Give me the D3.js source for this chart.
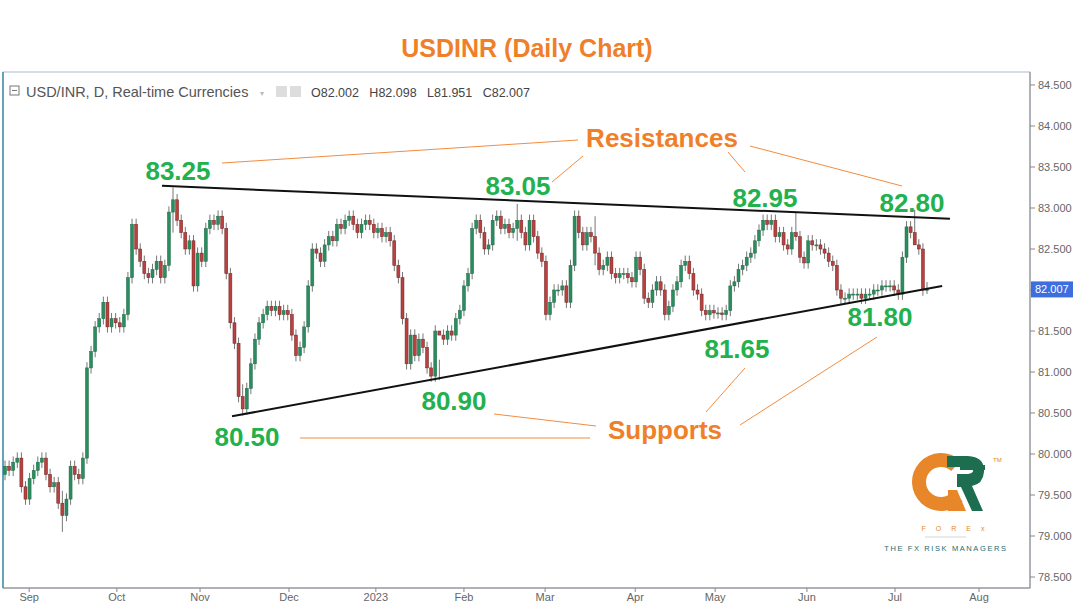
<!DOCTYPE html>
<html><head><meta charset="utf-8">
<script src="https://cdn.jsdelivr.net/npm/d3@7"></script>
<style>body{margin:0;background:#fff;font-family:"Liberation Sans",Arial,sans-serif}</style>
</head><body><svg id="c" width="1074" height="608"></svg>
<script>
const closes = [
79.85,79.80,79.90,79.95,79.60,79.45,79.70,79.80,79.90,79.95,79.75,79.60,79.65,79.40,79.25,79.45,79.85,79.75,79.70,79.95,
81.05,81.25,81.55,81.65,81.85,81.55,81.65,81.60,81.55,81.70,82.15,82.80,82.50,82.35,82.20,82.15,82.25,82.35,82.15,82.30,
82.95,83.10,82.85,82.70,82.50,82.60,82.05,82.45,82.35,82.75,82.85,82.80,82.90,82.75,82.20,81.60,81.35,80.70,80.55,80.80,
81.10,81.40,81.60,81.70,81.80,81.75,81.80,81.70,81.75,81.70,81.45,81.20,81.30,81.55,82.05,
82.50,82.45,82.35,82.55,82.65,82.60,82.80,82.75,82.85,82.90,82.80,82.70,82.80,82.85,82.80,82.70,82.75,82.65,82.70,82.60,
82.30,82.15,81.65,81.10,81.45,81.20,81.40,81.30,81.05,80.95,81.50,81.45,81.40,81.50,81.45,81.65,81.75,82.05,82.20,82.75,
82.85,82.70,82.50,82.55,82.85,82.90,82.75,82.80,82.70,82.75,82.85,82.70,82.55,82.85,82.65,82.45,82.35,81.70,81.85,82.00,
82.00,82.05,81.85,82.30,
82.90,82.70,82.55,82.70,82.65,82.45,82.25,82.30,82.40,82.20,82.15,82.20,82.20,82.15,82.10,82.40,82.25,81.90,81.85,82.00,
82.10,82.00,81.70,81.80,82.00,82.10,82.30,82.35,82.20,82.00,81.95,81.75,81.70,81.75,81.72,81.72,81.70,81.75,82.05,82.10,
82.25,82.30,82.40,
82.45,82.60,82.73,82.85,82.80,82.85,82.65,82.70,82.55,82.50,82.70,82.65,82.40,82.33,82.60,82.55,82.55,82.50,82.45,82.35,
82.30,82.00,81.90,81.90,81.95,81.95,81.95,81.90,81.95,81.95,82.00,82.00,82.05,82.05,82.05,82.00,81.95,82.40,82.77,82.70,
82.55,82.50,82.00,82.007];
const firstOpen = 79.75;
// extreme wicks: [index, high, low]
const extremes = [[14,79.55,79.05],[41,83.25,82.70],[58,80.85,80.47],[106,81.15,80.90],[125,83.05,82.60],[144,82.90,82.30],[193,82.95,82.60],[222,82.98,82.55],[225,82.098,81.951]];
const monthLabels = ["Sep","Oct","Nov","Dec","2023","Feb","Mar","Apr","May","Jun","Jul","Aug"];
const monthIdx = [5.9,27.3,47.6,69.3,90.5,112,131.8,153.8,173.3,195.7,217.2,237.7];
const priceTicks = d3.range(78.5,84.51,0.5);
const lastPrice = 82.007;
const resistances = [["83.25",41,83.28],["83.05",125,83.05],["82.95",193,82.95],["82.80",222,82.80]];
const supports = [["80.50",58,80.47],["80.90",106,80.90],["81.65",173,81.65],["81.80",213,81.80]];

const svg=d3.select("#c");
const L=3,T=72,R=1030,B=588;
const x=d3.scaleLinear().domain([0,closes.length-1]).range([5,927]);
const y=d3.scaleLinear().domain([78.5,84.5]).range([577,85]);

svg.append("text").attr("x",527).attr("y",57).attr("text-anchor","middle").attr("fill","#f07f2a")
 .attr("font-size",25).attr("font-weight","bold").text("USDINR (Daily Chart)");
svg.append("rect").attr("x",L).attr("y",T).attr("width",R-L).attr("height",B-T).attr("fill","none").attr("stroke","#a9bccf");
svg.append("line").attr("x1",L).attr("x2",L).attr("y1",T).attr("y2",B).attr("stroke","#3f8fa8").attr("stroke-width",1.5);

// header
const hd=svg.append("g").attr("font-size",14.5).attr("fill","#555");
hd.append("rect").attr("x",10).attr("y",86).attr("width",9).attr("height",9).attr("fill","none").attr("stroke","#777");
hd.append("line").attr("x1",12).attr("x2",17).attr("y1",90.5).attr("y2",90.5).attr("stroke","#777");
hd.append("text").attr("x",26).attr("y",97).text("USD/INR, D, Real-time Currencies");
hd.append("text").attr("x",260).attr("y",96).attr("font-size",8).attr("fill","#bbb").text("▾");
hd.append("rect").attr("x",276).attr("y",86).attr("width",11).attr("height",11).attr("fill","#ddd");
hd.append("rect").attr("x",290).attr("y",86).attr("width",11).attr("height",11).attr("fill","#ddd");
hd.append("text").attr("x",311).attr("y",97).attr("font-size",12.5).attr("fill","#444").attr("xml:space","preserve").text("O82.002   H82.098   L81.951   C82.007");

// axes
const ya=svg.append("g").attr("font-size",11).attr("fill","#666");
priceTicks.forEach(p=>{
  ya.append("line").attr("x1",R).attr("x2",R+5).attr("y1",y(p)).attr("y2",y(p)).attr("stroke","#888");
  if(Math.abs(y(p)-y(lastPrice))>12) ya.append("text").attr("x",R+8).attr("y",y(p)+4).text(p.toFixed(3));
});
svg.append("line").attr("x1",R).attr("x2",R).attr("y1",T).attr("y2",B).attr("stroke","#888");
const xa=svg.append("g").attr("font-size",11).attr("fill","#666");
svg.append("line").attr("x1",L).attr("x2",R).attr("y1",B).attr("y2",B).attr("stroke","#888");
monthLabels.forEach((m,i)=>{
  const px=x(monthIdx[i]);
  xa.append("line").attr("x1",px).attr("x2",px).attr("y1",B).attr("y2",B+4).attr("stroke","#888");
  xa.append("text").attr("x",px).attr("y",601).attr("text-anchor","middle").text(m);
});
svg.append("rect").attr("x",R+1).attr("y",y(lastPrice)-8).attr("width",42).attr("height",16).attr("fill","#3c6ee0");
svg.append("text").attr("x",R+5).attr("y",y(lastPrice)+4).attr("font-size",11).attr("fill","#fff").text(lastPrice.toFixed(3));

// candles
const ex=new Map(extremes.map(e=>[e[0],e]));
const cg=svg.append("g");
closes.forEach((c,i)=>{
  const o=i?closes[i-1]:firstOpen;
  let hi=Math.max(o,c)+0.07, lo=Math.min(o,c)-0.07;
  if(ex.has(i)){hi=ex.get(i)[1];lo=ex.get(i)[2];}
  const up=c>=o, col=up?"#2a8c5f":"#b9413f", dk=up?"#1f6b47":"#6b2424";
  cg.append("line").attr("x1",x(i)).attr("x2",x(i)).attr("y1",y(hi)).attr("y2",y(lo)).attr("stroke","#777");
  const top=y(Math.max(o,c)), h=Math.max(1,Math.abs(y(o)-y(c)));
  cg.append("rect").attr("x",x(i)-1.5).attr("y",top).attr("width",3).attr("height",h).attr("fill",col).attr("stroke",dk).attr("stroke-width",0.5);
});

// trend lines
const tl=[[38.3,83.27,230.6,82.87],[55.4,80.46,228.7,82.05]];
tl.forEach(t=>svg.append("line").attr("x1",x(t[0])).attr("y1",y(t[1])).attr("x2",x(t[2])).attr("y2",y(t[3])).attr("stroke","#111").attr("stroke-width",2));

// annotations
const orange="#f07f2a";
const leaders=[[222,163,578,140],[583,156,552,182],[728,152,745,172],[750,146,902,186],
 [300,438,590,438],[494,414,596,426],[706,412,745,368],[740,425,877,337]];
leaders.forEach(l=>svg.append("line").attr("x1",l[0]).attr("y1",l[1]).attr("x2",l[2]).attr("y2",l[3]).attr("stroke",orange).attr("stroke-width",0.9));
svg.append("text").attr("x",662).attr("y",147).attr("text-anchor","middle").attr("fill",orange).attr("font-size",26).attr("font-weight","bold").text("Resistances");
svg.append("text").attr("x",665).attr("y",439).attr("text-anchor","middle").attr("fill",orange).attr("font-size",26).attr("font-weight","bold").text("Supports");
const green="#22b14c";
const lblPos=[[178,180],[518,195],[765,207],[912,212],[247,446],[454,410],[737,358],[880,326]];
resistances.concat(supports).forEach((r,i)=>svg.append("text").attr("x",lblPos[i][0]).attr("y",lblPos[i][1]).attr("text-anchor","middle").attr("fill",green).attr("font-size",26).attr("font-weight","bold").text(r[0]));

// logo
const lg=svg.append("g");
lg.append("path").attr("transform","translate(941,482)").attr("fill","#e8862a")
 .attr("d",d3.arc().innerRadius(15).outerRadius(29).startAngle(2.3).endAngle(2*Math.PI+0.75)());
lg.append("path").attr("fill","#1d6e50").attr("d","M947,456 L968,456 Q985,457 984,472 Q983,484 972,486 L983,511 L972,511 L961,487 L957,487 L957,474 L968,474 Q973,473 973,471 Q973,467 968,467 L947,467 Z");
lg.append("rect").attr("x",960).attr("y",465).attr("width",25).attr("height",5).attr("fill","#1d6e50");
lg.append("path").attr("fill","#e8862a").attr("d","M948,490 L957,490 L966,511 L948,511 Z");
lg.append("text").attr("x",993).attr("y",462).attr("font-size",6).attr("fill","#e8862a").text("TM");
lg.append("text").attr("x",958).attr("y",531).attr("text-anchor","middle").attr("font-size",7).attr("fill","#e8862a").attr("letter-spacing",10).text("FOREx");
lg.append("line").attr("x1",925).attr("x2",966).attr("y1",537).attr("y2",537).attr("stroke","#bbb").attr("stroke-width",0.6);
lg.append("text").attr("x",946).attr("y",551).attr("text-anchor","middle").attr("font-size",7.5).attr("fill","#1d6e6e").attr("letter-spacing",1.6).text("THE FX RISK MANAGERS");
</script></body></html>
